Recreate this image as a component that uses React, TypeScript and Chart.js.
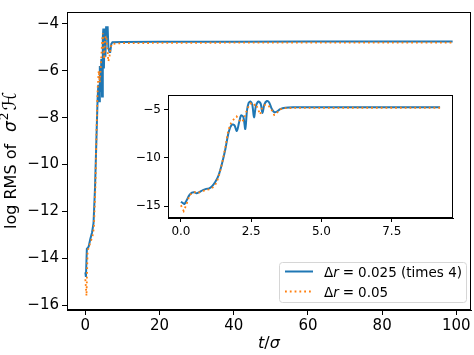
import React, { useEffect, useRef } from 'react';
import { Chart, registerables } from 'chart.js';

Chart.register(...registerables);

// ---------- data: main axes ----------
const mainTimeFine = [0.0, 0.15, 0.4, 0.9, 1.3, 1.8, 2.2, 2.6, 3.0, 3.3, 3.5, 3.7, 3.9, 4.1, 4.3, 4.5, 4.7, 4.85, 5.0, 5.2, 5.4, 5.6, 5.8, 6.0, 6.2, 6.5, 6.7, 7.0, 7.3, 10, 20, 40, 60, 80, 99];
const mainFine = [-14.6, -14.8, -13.6, -13.5, -13.2, -12.9, -12.5, -11.0, -8.8, -7.2, -6.6, -7.3, -5.8, -6.9, -5.5, -7.1, -4.6, -4.2, -5.9, -4.2, -5.4, -4.1, -4.4, -4.1, -5.0, -5.2, -5.2, -4.85, -4.78, -4.77, -4.76, -4.76, -4.75, -4.75, -4.75];

const mainTimeCoarse = [0.0, 0.3, 0.6, 1.0, 1.4, 1.9, 2.3, 2.7, 3.0, 3.3, 3.6, 3.9, 4.2, 4.5, 4.7, 4.9, 5.1, 5.3, 5.6, 5.9, 6.2, 6.5, 6.8, 7.2, 10, 20, 40, 60, 80, 99];
const mainCoarse = [-14.9, -15.6, -13.7, -13.5, -13.3, -13.1, -12.7, -11.0, -8.6, -6.8, -6.0, -6.5, -5.7, -4.8, -4.4, -5.1, -5.5, -4.6, -4.5, -5.0, -5.6, -5.4, -5.0, -4.85, -4.82, -4.81, -4.8, -4.8, -4.8, -4.8];

// ---------- data: inset axes ----------
const insetTimeFine = [0.0, 0.06, 0.12, 0.2, 0.3, 0.39, 0.48, 0.55, 0.62, 0.7, 0.8, 0.9, 1.0, 1.1, 1.22, 1.34, 1.46, 1.58, 1.7, 1.81, 1.9, 1.99, 2.07, 2.14, 2.22, 2.29, 2.35, 2.41, 2.47, 2.54, 2.6, 2.67, 2.76, 2.84, 2.9, 2.97, 3.06, 3.14, 3.23, 3.32, 3.41, 3.53, 3.71, 4.0, 5.0, 7.0, 9.22];
const insetFine = [-14.55, -14.65, -14.78, -14.4, -13.85, -13.6, -13.55, -13.65, -13.6, -13.45, -13.3, -13.2, -13.15, -12.95, -12.5, -11.8, -10.6, -9.1, -7.3, -6.55, -6.6, -7.2, -6.3, -5.6, -5.75, -7.0, -5.1, -4.3, -4.15, -4.5, -5.8, -4.6, -4.15, -4.4, -5.35, -4.45, -4.1, -4.25, -4.9, -5.25, -5.2, -4.95, -4.8, -4.76, -4.76, -4.75, -4.75];

const insetTimeCoarse = [0.0, 0.1, 0.2, 0.3, 0.4, 0.5, 0.6, 0.7, 0.8, 0.9, 1.0, 1.1, 1.22, 1.34, 1.46, 1.58, 1.68, 1.78, 1.88, 1.98, 2.08, 2.18, 2.28, 2.38, 2.48, 2.58, 2.66, 2.75, 2.82, 2.9, 3.0, 3.12, 3.22, 3.32, 3.4, 3.5, 3.65, 4.0, 6.0, 9.22];
const insetCoarse = [-14.9, -15.5, -14.8, -13.9, -13.6, -13.55, -13.65, -13.5, -13.4, -13.3, -13.25, -13.15, -12.8, -12.0, -10.6, -8.9, -7.2, -6.4, -6.0, -5.7, -6.1, -6.3, -5.6, -4.8, -4.35, -4.6, -4.4, -5.0, -5.5, -4.7, -4.5, -4.6, -5.0, -5.55, -5.4, -5.0, -4.85, -4.82, -4.8, -4.8];

// ---------- ticks & labels ----------
const mainXTicks = [0, 20, 40, 60, 80, 100];
const mainYTicks = [-16, -14, -12, -10, -8, -6, -4];
const insetXTicks = [0, 2.5, 5, 7.5];
const insetYTicks = [-15, -10, -5];
const legendValues = ['0.025', '0.05'];
const legendSuffixes = [' (times 4)', ''];

const BLUE = '#1f77b4';
const ORANGE = '#ff7f0e';
const FONT = '"DejaVu Sans", sans-serif';

const fmtInt = (v: number) => (v < 0 ? '\u2212' + Math.abs(v) : String(v));
const fmtDec = (v: number) => (v < 0 ? '\u2212' + Math.abs(v).toFixed(1) : v.toFixed(1));

type Piece = { text: string; font: string; dy?: number; gap?: number };

function drawPieces(ctx: CanvasRenderingContext2D, pieces: Piece[], x: number, y: number) {
  let cx = x;
  for (const p of pieces) {
    cx += p.gap || 0;
    ctx.font = p.font;
    ctx.fillText(p.text, cx, y + (p.dy || 0));
    cx += ctx.measureText(p.text).width;
  }
  return cx;
}
function piecesWidth(ctx: CanvasRenderingContext2D, pieces: Piece[]) {
  let w = 0;
  for (const p of pieces) {
    w += p.gap || 0;
    ctx.font = p.font;
    w += ctx.measureText(p.text).width;
  }
  return w;
}

function toPts(ts: number[], vs: number[]) {
  return ts.map((t, i) => ({ x: t, y: vs[i] }));
}

const mainPlugin = {
  id: 'mainDecor',
  afterDraw(chart: any) {
    const ctx = chart.ctx as CanvasRenderingContext2D;
    const a = chart.chartArea;
    ctx.save();
    ctx.strokeStyle = '#000';
    ctx.lineWidth = 1;
    ctx.strokeRect(Math.round(a.left) + 0.5, Math.round(a.top) + 0.5, Math.round(a.right - a.left) - 1, Math.round(a.bottom - a.top) - 1);
    ctx.fillStyle = '#000';
    ctx.textBaseline = 'alphabetic';
    // x label
    const xl: Piece[] = [
      { text: 't', font: `italic 16px ${FONT}` },
      { text: '/', font: `16px ${FONT}` },
      { text: 'σ', font: `italic 16px ${FONT}` },
    ];
    const w = piecesWidth(ctx, xl);
    drawPieces(ctx, xl, (a.left + a.right) / 2 - w / 2, 348);
    // y label (rotated)
    ctx.translate(16, 229);
    ctx.rotate(-Math.PI / 2);
    const yl: Piece[] = [
      { text: 'log RMS of', font: `16px ${FONT}` },
      { text: 'σ', font: `italic 17px ${FONT}`, gap: 12 },
      { text: '2', font: `12px ${FONT}`, dy: -8, gap: 1 },
      { text: 'ℋ', font: `italic 19px ${FONT}`, gap: 2 },
    ];
    drawPieces(ctx, yl, 0, 0);
    ctx.restore();

    // legend
    ctx.save();
    const lx = 279, ly = 262, lw = 187, lh = 40;
    ctx.beginPath();
    (ctx as any).roundRect(lx + 0.5, ly + 0.5, lw, lh, 3);
    ctx.fillStyle = 'rgba(255,255,255,0.85)';
    ctx.fill();
    ctx.strokeStyle = '#d6d6d6';
    ctx.lineWidth = 1;
    ctx.stroke();
    const rows = [
      { color: BLUE, dash: [] as number[], width: 2, y: 271.5 },
      { color: ORANGE, dash: [1.8, 3], width: 1.8, y: 291.5 },
    ];
    rows.forEach((r, i) => {
      ctx.beginPath();
      ctx.setLineDash(r.dash);
      ctx.lineCap = 'butt';
      ctx.strokeStyle = r.color;
      ctx.lineWidth = r.width;
      ctx.moveTo(285, r.y);
      ctx.lineTo(313, r.y);
      ctx.stroke();
      ctx.setLineDash([]);
      ctx.fillStyle = '#000';
      const pcs: Piece[] = [
        { text: 'Δ', font: `13.5px ${FONT}` },
        { text: 'r', font: `italic 13.5px ${FONT}` },
        { text: '=', font: `13.5px ${FONT}`, gap: 4 },
        { text: legendValues[i] + legendSuffixes[i], font: `13.5px ${FONT}`, gap: 4 },
      ];
      drawPieces(ctx, pcs, 324, r.y + 5);
    });
    ctx.restore();
  },
};

const insetPlugin = {
  id: 'insetDecor',
  beforeDraw(chart: any) {
    const ctx = chart.ctx as CanvasRenderingContext2D;
    const a = chart.chartArea;
    ctx.save();
    ctx.fillStyle = '#fff';
    ctx.fillRect(a.left, a.top, a.right - a.left, a.bottom - a.top);
    ctx.restore();
  },
  afterDraw(chart: any) {
    const ctx = chart.ctx as CanvasRenderingContext2D;
    const a = chart.chartArea;
    ctx.save();
    ctx.strokeStyle = '#000';
    ctx.lineWidth = 1;
    ctx.strokeRect(Math.round(a.left) + 0.5, Math.round(a.top) + 0.5, Math.round(a.right - a.left) - 1, Math.round(a.bottom - a.top) - 1);
    ctx.restore();
  },
};

function axis(opts: any) {
  return {
    type: 'linear',
    min: opts.min,
    max: opts.max,
    afterBuildTicks: (s: any) => {
      s.ticks = opts.ticks.map((v: number) => ({ value: v }));
    },
    afterFit: opts.afterFit,
    grid: { display: true, drawOnChartArea: false, drawTicks: true, tickLength: opts.tickLength, tickColor: '#000', color: '#000', tickWidth: 1 },
    border: { display: true, color: '#000', width: 1 },
    ticks: {
      color: '#000',
      font: { family: FONT, size: opts.fontSize },
      padding: opts.padding,
      maxRotation: 0,
      minRotation: 0,
      autoSkip: false,
      callback: (v: any) => opts.fmt(Number(v)),
    },
  };
}

export default function App() {
  const mainRef = useRef<HTMLCanvasElement>(null);
  const insetRef = useRef<HTMLCanvasElement>(null);

  useEffect(() => {
    const main = new Chart(mainRef.current as HTMLCanvasElement, {
      type: 'line',
      data: {
        datasets: [
          { label: 'Δr = 0.05', data: toPts(mainTimeCoarse, mainCoarse), borderColor: ORANGE, borderWidth: 1.8, borderDash: [1.8, 3], pointRadius: 0, tension: 0, fill: false },
          { label: 'Δr = 0.025 (times 4)', data: toPts(mainTimeFine, mainFine), borderColor: BLUE, borderWidth: 2, pointRadius: 0, tension: 0, fill: false },
        ],
      } as any,
      options: {
        animation: false,
        responsive: false,
        maintainAspectRatio: false,
        layout: { padding: { left: 0, right: 3, top: 2, bottom: 0 } },
        plugins: { legend: { display: false }, tooltip: { enabled: false } },
        scales: {
          x: axis({ min: -4.95, max: 103.95, ticks: mainXTicks, tickLength: 5, padding: 2, fontSize: 15, fmt: fmtInt, afterFit: (s: any) => { s.height = 45; } }),
          y: axis({ min: -16.21, max: -3.49, ticks: mainYTicks, tickLength: 5, padding: 3, fontSize: 15, fmt: fmtInt, afterFit: (s: any) => { s.width = 67; } }),
        },
      } as any,
      plugins: [mainPlugin],
    });

    const inset = new Chart(insetRef.current as HTMLCanvasElement, {
      type: 'line',
      data: {
        datasets: [
          { data: toPts(insetTimeCoarse, insetCoarse), borderColor: ORANGE, borderWidth: 1.8, borderDash: [1.8, 3], pointRadius: 0, tension: 0, fill: false },
          { data: toPts(insetTimeFine, insetFine), borderColor: BLUE, borderWidth: 2, pointRadius: 0, tension: 0.3, fill: false },
        ],
      } as any,
      options: {
        animation: false,
        responsive: false,
        maintainAspectRatio: false,
        layout: { padding: { left: 0, right: 17, top: 9, bottom: 0 } },
        plugins: { legend: { display: false }, tooltip: { enabled: false } },
        scales: {
          x: axis({ min: -0.46, max: 9.68, ticks: insetXTicks, tickLength: 4, padding: 3, fontSize: 12, fmt: fmtDec, afterFit: (s: any) => { s.height = 37; } }),
          y: axis({ min: -16.22, max: -3.5, ticks: insetYTicks, tickLength: 4, padding: 3, fontSize: 12, fmt: fmtInt, afterFit: (s: any) => { s.width = 38; } }),
        },
      } as any,
      plugins: [insetPlugin],
    });

    return () => {
      main.destroy();
      inset.destroy();
    };
  }, []);

  return (
    <div style={{ position: 'fixed', left: 0, top: 0, width: 474, height: 355, background: '#fff', overflow: 'hidden' }}>
      <canvas ref={mainRef} width={474} height={355} style={{ position: 'absolute', left: 0, top: 0, width: 474, height: 355 }} />
      <canvas ref={insetRef} width={340} height={170} style={{ position: 'absolute', left: 130, top: 85, width: 340, height: 170 }} />
    </div>
  );
}
